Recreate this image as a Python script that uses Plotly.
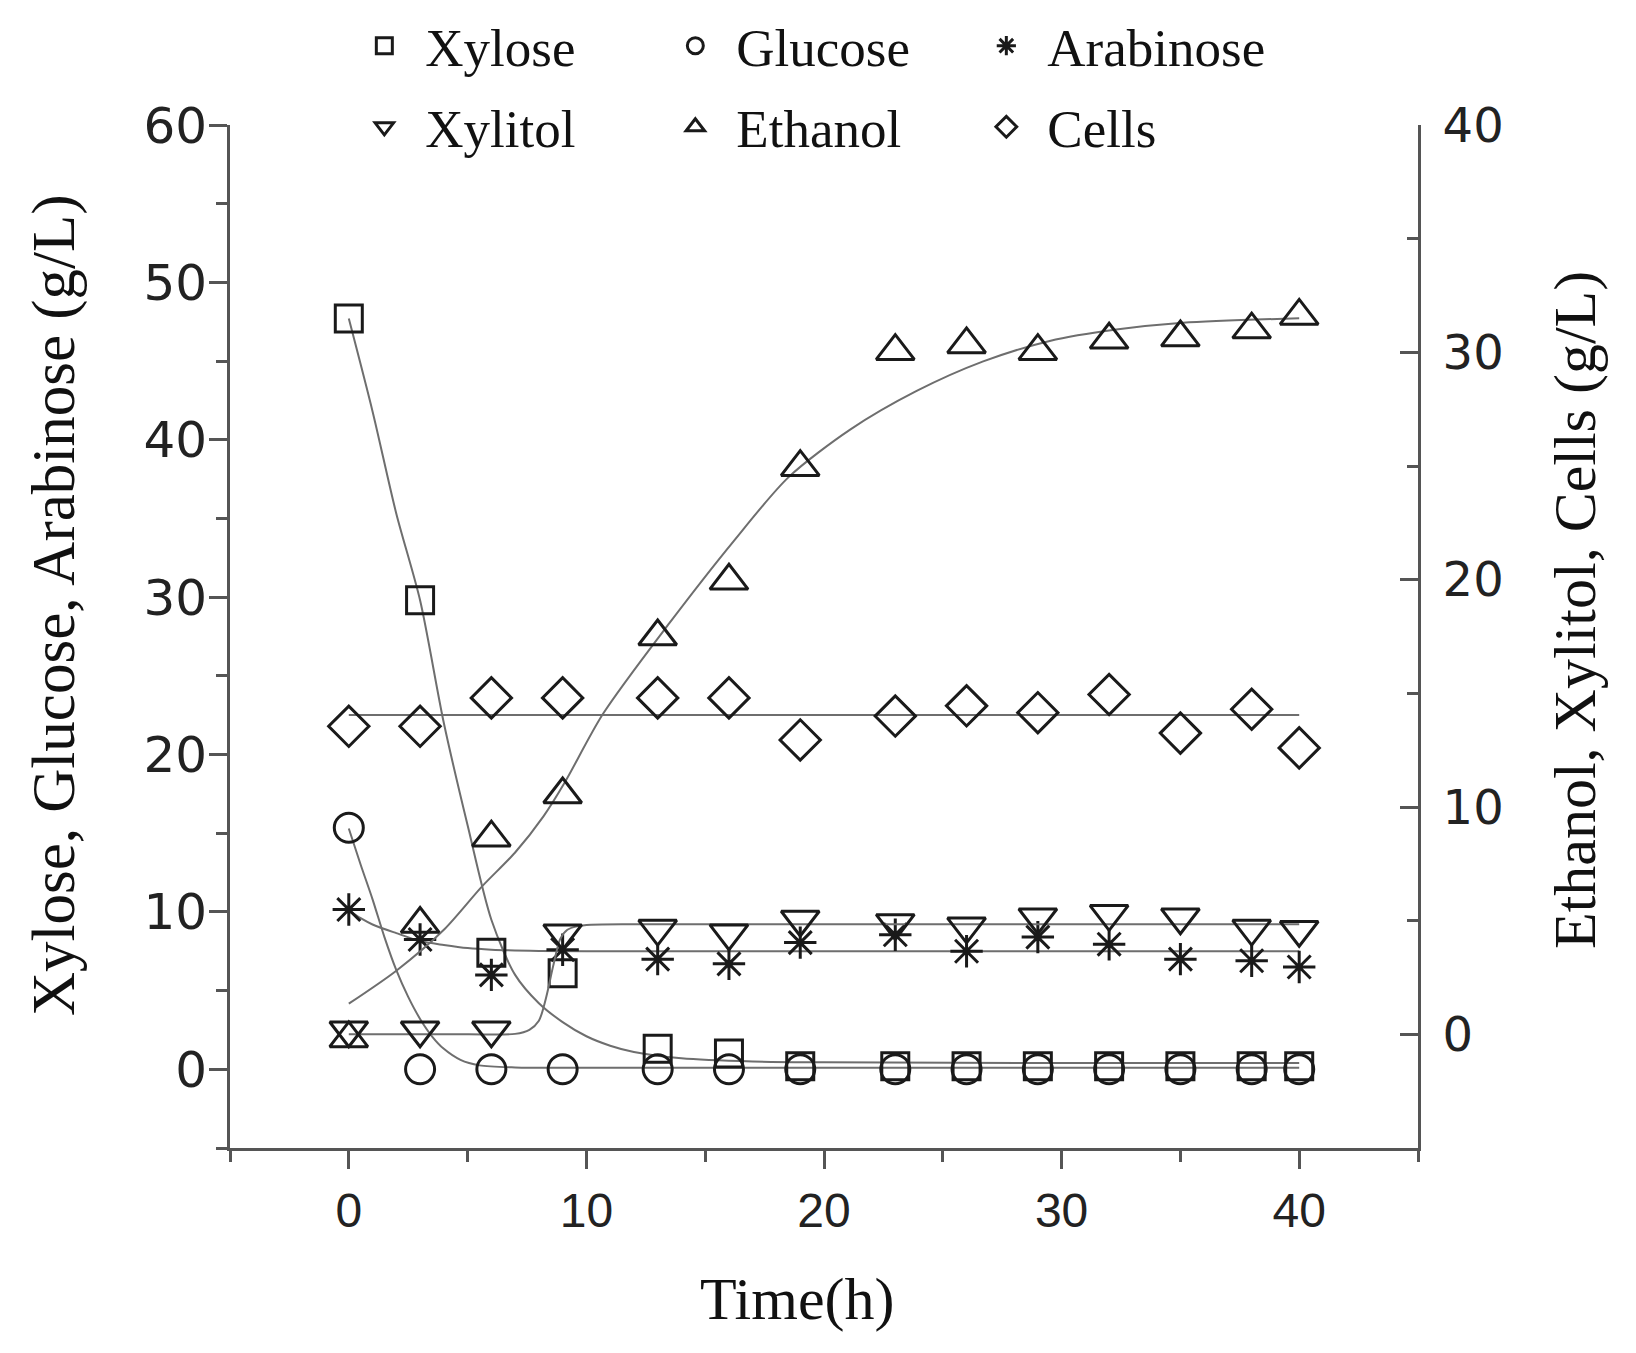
import plotly.graph_objects as go

# ---------------- data ----------------
time_h = [0, 3, 6, 9, 13, 16, 19, 23, 26, 29, 32, 35, 38, 40]

xylose = [47.7, 29.8, 7.4, 6.1, 1.3, 1.0, 0.2, 0.2, 0.2, 0.2, 0.2, 0.2, 0.2, 0.2]
glucose = [15.35, 0.0, 0.0, 0.0, 0.0, 0.0, 0.0, 0.0, 0.0, 0.0, 0.0, 0.0, 0.0, 0.0]
arabinose = [10.15, 8.25, 6.0, 7.6, 7.0, 6.7, 8.05, 8.55, 7.5, 8.4, 7.95, 7.0, 6.9, 6.5]
xylitol = [0.18, 0.18, 0.18, 4.45, 4.65, 4.45, 5.05, 4.9, 4.75, 5.15, 5.3, 5.15, 4.65, 4.6]
ethanol = [-0.18, 4.85, 8.65, 10.55, 17.5, 19.95, 24.95, 30.05, 30.35, 30.05, 30.55, 30.65, 31.0, 31.6]
cells = [13.55, 13.55, 14.8, 14.8, 14.8, 14.8, 12.95, 14.0, 14.45, 14.15, 14.95, 13.25, 14.3, 12.6]

# fitted curves
xylose_fit_x = [0, 1, 2, 3, 4, 5, 6, 7, 8, 9, 10, 11, 12, 14, 17, 20, 30, 40]
xylose_fit_y = [47.7, 41.8, 35.3, 29.8, 22.0, 15.5, 9.5, 6.0, 4.2, 3.0, 2.1, 1.5, 1.1, 0.7, 0.5, 0.45, 0.4, 0.4]

glucose_fit_x = [0, 0.5, 1, 1.5, 2, 2.5, 3, 3.5, 4, 4.7, 5.5, 7, 10, 20, 40]
glucose_fit_y = [15.3, 13.0, 10.8, 8.4, 6.3, 4.6, 3.2, 2.1, 1.3, 0.6, 0.25, 0.12, 0.1, 0.1, 0.1]

arabinose_fit_x = [0, 0.5, 1, 2, 3, 4, 5, 6, 8, 10, 20, 40]
arabinose_fit_y = [10.1, 9.6, 9.2, 8.65, 8.15, 7.9, 7.7, 7.6, 7.52, 7.5, 7.5, 7.5]

xylitol_fit_x = [0, 5, 7.0, 7.6, 8.0, 8.3, 8.6, 8.9, 9.2, 9.6, 10.2, 12, 20, 40]
xylitol_fit_y = [0, 0, 0.02, 0.2, 0.6, 1.6, 3.0, 4.2, 4.6, 4.75, 4.82, 4.84, 4.84, 4.84]

ethanol_fit_x = [0, 2, 4, 5.6, 7, 8.2, 9.1, 10.7, 13.5, 16.2, 18.5, 21.1, 23.9, 26.7, 29.5, 32.3, 35.1, 40]
ethanol_fit_y = [1.35, 2.8, 4.6, 6.5, 8.0, 9.6, 11.1, 14.1, 18.1, 21.7, 24.5, 26.6, 28.3, 29.6, 30.5, 31.0, 31.3, 31.5]

cells_fit_x = [0, 40]
cells_fit_y = [14.05, 14.05]

x_ticks = [0, 10, 20, 30, 40]

# ---------------- styling ----------------
MK = "#1a1a1a"
FIT = "#6e6e6e"
AX = "#555555"
SERIF = "Liberation Serif, Times New Roman, serif"

fig = go.Figure()

fits = [
    (xylose_fit_x, xylose_fit_y, "y"),
    (glucose_fit_x, glucose_fit_y, "y"),
    (arabinose_fit_x, arabinose_fit_y, "y"),
    (xylitol_fit_x, xylitol_fit_y, "y2"),
    (ethanol_fit_x, ethanol_fit_y, "y2"),
    (cells_fit_x, cells_fit_y, "y2"),
]
for fx, fy, ax in fits:
    fig.add_trace(go.Scatter(x=fx, y=fy, mode="lines", yaxis=ax, showlegend=False,
                             hoverinfo="skip",
                             line=dict(color=FIT, width=2, shape="spline", smoothing=0.8)))

series = [
    ("Xylose", xylose, "square-open", 27, "y", "legend"),
    ("Glucose", glucose, "circle-open", 29, "y", "legend"),
    ("Arabinose", arabinose, "asterisk-open", 27, "y", "legend"),
    ("Xylitol", xylitol, "triangle-down-open", 33, "y2", "legend2"),
    ("Ethanol", ethanol, "triangle-up-open", 33, "y2", "legend2"),
    ("Cells", cells, "diamond-open", 31, "y2", "legend2"),
]
for name, vals, sym, size, ax, lg in series:
    fig.add_trace(go.Scatter(x=time_h, y=vals, mode="markers", name=name, yaxis=ax, legend=lg,
                             marker=dict(symbol=sym, size=size, color=MK,
                                         line=dict(color=MK, width=3))))

axis_common = dict(showline=True, linecolor=AX, linewidth=3, showgrid=False, zeroline=False,
                   tickcolor=AX, tickwidth=2.5, ticklen=18)

legend_common = dict(orientation="h", x=0.0954, xanchor="left", yanchor="middle",
                     font=dict(family=SERIF, size=53, color="#111"), itemwidth=72,
                     entrywidth=224, entrywidthmode="pixels", bgcolor="rgba(0,0,0,0)",
                     traceorder="normal")

fig.update_layout(
    width=1636, height=1353,
    margin=dict(l=230, r=218, t=125, b=205, pad=0, autoexpand=False),
    paper_bgcolor="white", plot_bgcolor="white",
    xaxis=dict(range=[-5, 45], tickvals=x_ticks, ticks="outside",
               minor=dict(dtick=5, tick0=0, ticks="outside", ticklen=11, tickwidth=2.5, tickcolor=AX),
               tickfont=dict(family="Liberation Sans Narrow, Arial Narrow, Liberation Sans, Arial",
                             size=48, color="#222"),
               **axis_common),
    yaxis=dict(range=[-5, 60], dtick=10, tick0=0, ticks="outside",
               minor=dict(dtick=5, tick0=0, ticks="outside", ticklen=11, tickwidth=2.5, tickcolor=AX),
               tickfont=dict(family="DejaVu Sans, Verdana, sans-serif", size=50, color="#222"),
               ticklabelstandoff=-8, **axis_common),
    yaxis2=dict(range=[-5, 40], dtick=10, tick0=0, ticks="inside", overlaying="y", side="right",
                anchor="x",
                minor=dict(dtick=5, tick0=0, ticks="inside", ticklen=11, tickwidth=2.5, tickcolor=AX),
                tickfont=dict(family="DejaVu Sans, Verdana, sans-serif", size=48, color="#222"),
                ticklabelstandoff=12, **axis_common),
    legend=dict(y=1.0775, **legend_common),
    legend2=dict(y=0.9982, **legend_common),
    showlegend=True,
    annotations=[
        dict(text="Time(h)", xref="paper", yref="paper", x=(797 - 230) / 1188, y=-(1299 - 1148) / 1023,
             xanchor="center", yanchor="middle", showarrow=False,
             font=dict(family=SERIF, size=60, color="#111")),
        dict(text="Xylose, Glucose, Arabinose (g/L)", xref="paper", yref="paper",
             x=(54 - 230) / 1188, y=(1148 - 605) / 1023, textangle=-90,
             xanchor="center", yanchor="middle", showarrow=False,
             font=dict(family=SERIF, size=61, color="#111")),
        dict(text="Ethanol, Xylitol, Cells (g/L)", xref="paper", yref="paper",
             x=(1575 - 230) / 1188, y=(1148 - 610) / 1023, textangle=-90,
             xanchor="center", yanchor="middle", showarrow=False,
             font=dict(family=SERIF, size=60, color="#111")),
    ],
)

fig.write_html("out.html")
